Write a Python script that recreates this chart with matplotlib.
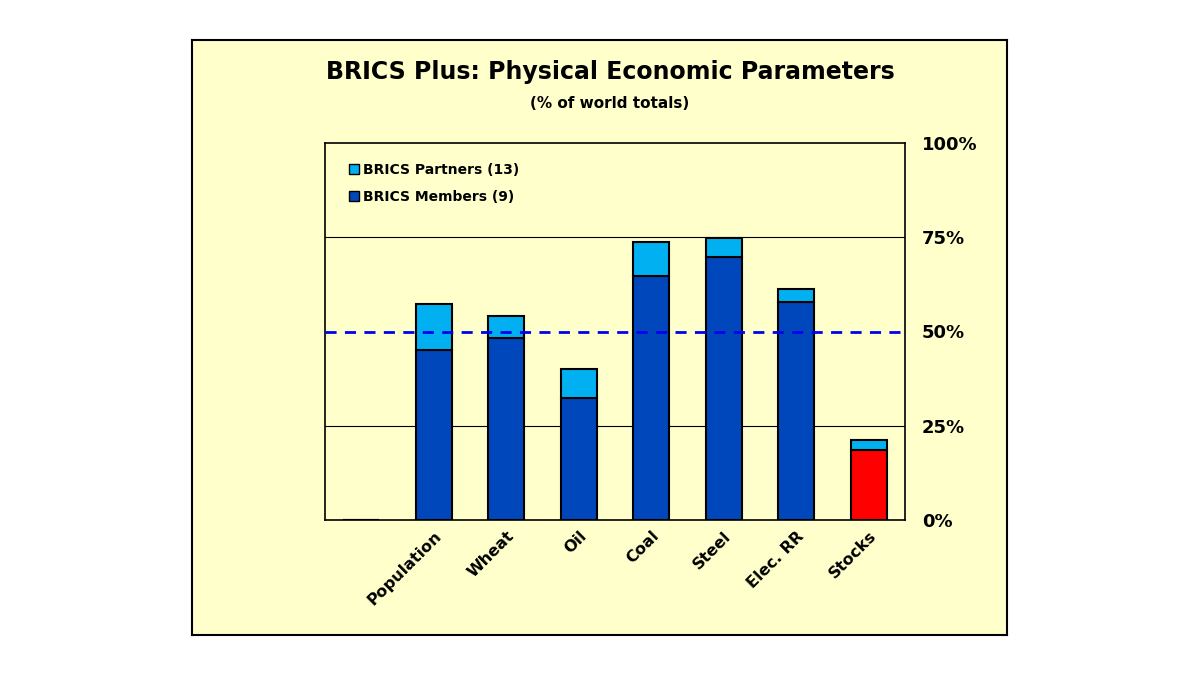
import matplotlib
matplotlib.use("Agg")
import matplotlib.pyplot as plt
from matplotlib.patches import Patch

categories = ["", "Population", "Wheat", "Oil", "Coal", "Steel", "Elec. RR", "Stocks"]
members  = [0, 45.0, 48.3, 32.4, 64.7, 69.8, 57.8, 18.6]
partners = [0, 12.3, 5.7, 7.6, 9.0, 5.0, 3.5, 2.6]
yticks = [0, 25, 50, 75, 100]

BG = "#FFFFCC"
MEMBER = "#0047BB"
PARTNER = "#00B0F0"

fig = plt.figure(figsize=(12, 6.75), dpi=100)

# yellow framed panel behind the chart
bg = fig.add_axes([192/1200, 40/675, (1007-192)/1200, (635-40)/675], zorder=-1)
bg.set_facecolor(BG)
bg.set_xticks([])
bg.set_yticks([])
for s in bg.spines.values():
    s.set_linewidth(1.5)

ax = fig.add_axes([325/1200, 155/675, 580/1200, 377/675])
ax.set_facecolor(BG)
x = list(range(len(categories)))
mcolors = [MEMBER] * len(categories)
mcolors[-1] = "#FF0000"
ax.bar(x, members, width=0.5, color=mcolors, edgecolor="black", linewidth=1.5, zorder=3)
ax.bar(x, partners, bottom=members, width=0.5, color=PARTNER, edgecolor="black",
       linewidth=1.5, zorder=3)

for y in (25, 75):
    ax.axhline(y, color="black", linewidth=0.8, zorder=1)
ax.axhline(50, color="#0000EE", linewidth=2, linestyle=(0, (4, 3)), zorder=4)

ax.set_xlim(-0.5, 7.5)
ax.set_ylim(0, 100)
ax.yaxis.tick_right()
ax.set_yticks(yticks)
ax.set_yticklabels([f"{v}%" for v in yticks], fontsize=13, fontweight="bold")
ax.tick_params(axis="y", length=0, pad=12)
ax.set_xticks(x[1:])
ax.set_xticklabels(categories[1:], rotation=45, ha="right", rotation_mode="anchor",
                   fontsize=11.5, fontweight="bold")
ax.tick_params(axis="x", length=0, pad=6)
for s in ax.spines.values():
    s.set_linewidth(1.2)

ax.legend(handles=[Patch(facecolor=PARTNER, edgecolor="black", label="BRICS Partners (13)"),
                   Patch(facecolor=MEMBER, edgecolor="black", label="BRICS Members (9)")],
          loc="upper left", bbox_to_anchor=(0.02, 0.98), frameon=False,
          handlelength=0.7, handleheight=0.7, handletextpad=0.3, labelspacing=0.9,
          prop={"size": 10, "weight": "bold"})

fig.text(610/1200, 1 - 72/675, "BRICS Plus: Physical Economic Parameters",
         ha="center", va="center", fontsize=17, fontweight="bold")
fig.text(610/1200, 1 - 104/675, "(% of world totals)",
         ha="center", va="center", fontsize=11, fontweight="bold")

fig.savefig("out.png", dpi=100, facecolor="white")
